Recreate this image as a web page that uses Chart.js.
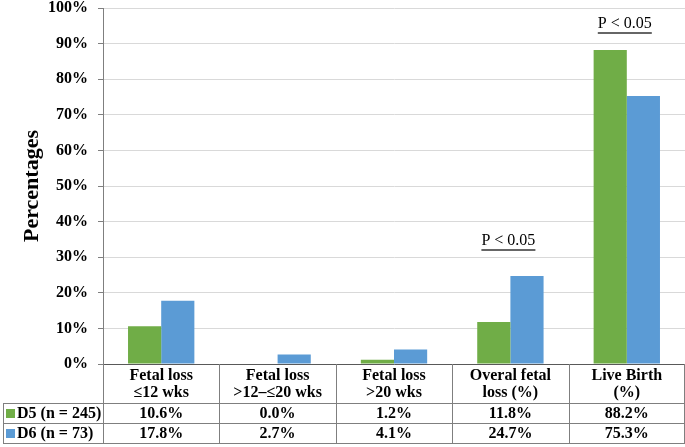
<!DOCTYPE html>
<html>
<head>
<meta charset="utf-8">
<script src="https://cdn.jsdelivr.net/npm/chart.js@4/dist/chart.umd.min.js"></script>
<style>
  html, body { margin: 0; padding: 0; background: #fff; }
  #wrap { width: 685px; height: 447px; }
</style>
</head>
<body>
<div id="wrap"><canvas id="chart"></canvas></div>
<script>
const categories = [
  ["Fetal loss", "\u226412 wks"],
  ["Fetal loss", ">12\u2013\u226420 wks"],
  ["Fetal loss", ">20 wks"],
  ["Overal fetal", "loss (%)"],
  ["Live Birth", "(%)"],
];
const d5Label = "D5 (n = 245)";
const d6Label = "D6 (n = 73)";
const d5Values = [10.6, 0.0, 1.2, 11.8, 88.2];
const d6Values = [17.8, 2.7, 4.1, 24.7, 75.3];
const yTicks = [0, 10, 20, 30, 40, 50, 60, 70, 80, 90, 100];
const pNotes = [
  { index: 3, level: 32, text: "P < 0.05" },
  { index: 4, level: 93, text: "P < 0.05" },
];

const green = "#70AD47";
const blue = "#5B9BD5";
const serif = "'Liberation Serif', 'Times New Roman', serif";

// draws the data table under the plot and the P-value brackets
const tablePlugin = {
  id: "tablePlugin",
  afterDraw(chart) {
    const ctx = chart.ctx;
    const area = chart.chartArea;
    const x = chart.scales.x;
    const n = categories.length;
    const w = (area.right - area.left) / n;
    const top = area.bottom;
    const r1 = top + 39, r2 = r1 + 20, r3 = r2 + 20;
    const leftEdge = 3;

    ctx.save();
    ctx.strokeStyle = "#7f7f7f";
    ctx.lineWidth = 1;
    ctx.beginPath();
    // horizontal rules
    ctx.moveTo(leftEdge, r1 + 0.5); ctx.lineTo(area.right, r1 + 0.5);
    ctx.moveTo(leftEdge, r2 + 0.5); ctx.lineTo(area.right, r2 + 0.5);
    ctx.moveTo(leftEdge, r3 + 0.5); ctx.lineTo(area.right, r3 + 0.5);
    // vertical rules
    for (let i = 0; i <= n; i++) {
      const px = Math.round(area.left + i * w) - (i === n ? 1 : 0) + 0.5;
      ctx.moveTo(px, top); ctx.lineTo(px, r3 + 0.5);
    }
    ctx.moveTo(leftEdge + 0.5, r1); ctx.lineTo(leftEdge + 0.5, r3 + 0.5);
    ctx.stroke();

    ctx.fillStyle = "#000";
    ctx.textAlign = "center";
    ctx.textBaseline = "middle";
    ctx.font = "bold 16px " + serif;
    categories.forEach((c, i) => {
      const cx = x.getPixelForValue(i);
      ctx.fillText(c[0], cx, top + 12);
      ctx.fillText(c[1], cx, top + 29);
      ctx.fillText(d5Values[i].toFixed(1) + "%", cx, r1 + 10.5);
      ctx.fillText(d6Values[i].toFixed(1) + "%", cx, r2 + 10.5);
    });

    ctx.textAlign = "left";
    ctx.fillStyle = green;
    ctx.fillRect(6, r1 + 6, 9, 9);
    ctx.fillStyle = blue;
    ctx.fillRect(6, r2 + 6, 9, 9);
    ctx.fillStyle = "#000";
    ctx.fillText(d5Label, 17, r1 + 10.5);
    ctx.fillText(d6Label, 17, r2 + 10.5);

    // P-value notes
    const y = chart.scales.y;
    ctx.font = "16px " + serif;
    ctx.textAlign = "center";
    ctx.textBaseline = "alphabetic";
    ctx.strokeStyle = "#333";
    ctx.lineWidth = 1.5;
    pNotes.forEach(p => {
      const cx = x.getPixelForValue(p.index) - 2;
      const py = y.getPixelForValue(p.level);
      ctx.beginPath();
      ctx.moveTo(cx - 27, py); ctx.lineTo(cx + 27, py);
      ctx.stroke();
      ctx.fillText(p.text, cx, py - 5);
    });
    ctx.restore();
  }
};

new Chart(document.getElementById("chart"), {
  type: "bar",
  data: {
    labels: categories,
    datasets: [
      { label: d5Label, data: d5Values, backgroundColor: green },
      { label: d6Label, data: d6Values, backgroundColor: blue },
    ],
  },
  options: {
    responsive: true,
    maintainAspectRatio: false,
    animation: false,
    layout: { padding: { left: 3, top: 8, right: 0, bottom: 83 } },
    datasets: { bar: { categoryPercentage: 0.57, barPercentage: 1.0 } },
    plugins: { legend: { display: false }, tooltip: { enabled: false } },
    scales: {
      x: {
        ticks: { display: false },
        grid: { display: false, drawTicks: false },
        border: { display: true, color: "#595959", width: 1 },
      },
      y: {
        min: 0,
        max: 100,
        afterFit(scale) { scale.width = 100; scale.paddingTop = 0; },
        afterBuildTicks(scale) { scale.ticks = yTicks.map(v => ({ value: v })); },
        ticks: {
          padding: 10,
          color: "#000",
          font: { family: serif, size: 16, weight: "bold" },
          callback: v => v + "%",
        },
        grid: { color: "#d9d9d9", tickLength: 5, tickColor: "#7f7f7f" },
        border: { color: "#7f7f7f" },
        title: {
          display: true,
          text: "Percentages",
          color: "#000",
          font: { family: serif, size: 22, weight: "bold" },
          padding: { top: 16, bottom: 0 },
        },
      },
    },
  },
  plugins: [tablePlugin],
});
</script>
</body>
</html>
